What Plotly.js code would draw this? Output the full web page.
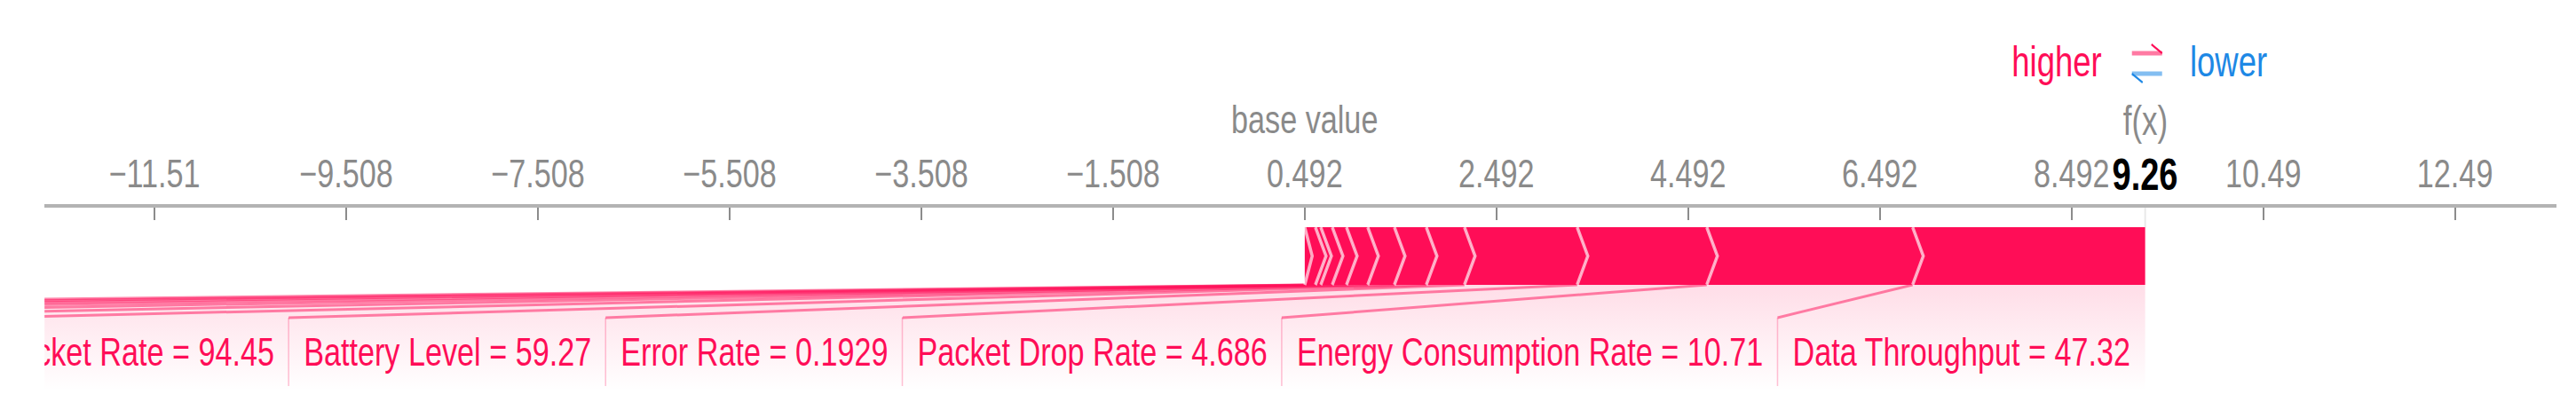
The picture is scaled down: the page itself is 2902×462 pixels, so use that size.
<!DOCTYPE html>
<html><head><meta charset="utf-8">
<script src="https://cdn.plot.ly/plotly-3.0.1.min.js"></script>
<style>
html,body{margin:0;padding:0;background:#fff;overflow:hidden;width:2902px;height:462px;}
#chart{transform-origin:0 0;}
</style>
</head><body><div id="chart"></div>
<script>
// ---------------- data ----------------
const baseValue = 0.492;
const outputValue = 9.26;
const featureNames  = ['', '', '', '', '', '', 'Packet Rate', 'Battery Level', 'Error Rate', 'Packet Drop Rate', 'Energy Consumption Rate', 'Data Throughput'];
const featureValues = ['', '', '', '', '', '', '94.45', '59.27', '0.1929', '4.686', '10.71', '47.32'];
const shapValues    = [0.111, 0.056, 0.120, 0.148, 0.222, 0.278, 0.333, 0.398, 1.176, 1.352, 2.148, 2.426];
const tickValues = [-11.508, -9.508, -7.508, -5.508, -3.508, -1.508, 0.492, 2.492, 4.492, 6.492, 8.492, 10.492, 12.492];
const tickLabels = ['\u221211.51', '\u22129.508', '\u22127.508', '\u22125.508', '\u22123.508', '\u22121.508', '0.492', '2.492', '4.492', '6.492', '8.492', '10.49', '12.49'];

// ---------------- layout / style constants ----------------
// The reference is horizontally condensed; the figure is drawn wider and squeezed by S.
const S = 0.76;
const W = 2902, H = 462, ML = 50, MR = 22, MT = 234;        // page pixels
const xRange = [-12.656, 13.548];
const PINK = '#ff0d57', BLUE = '#1e88e5', GREY = '#8a8a8a';
const FONT = '"Liberation Sans", Arial, sans-serif';
const LABEL_SIZE = 45;
const barTop = 256, barBot = 321, barMid = (256 + 321) / 2;
const linkY = 358, backBottom = 440, labelY = 401;
const tipPx = 12, padL = 17, padR = 16, unnamedBox = 300;   // page pixels

const ppu = (W - ML - MR) / (xRange[1] - xRange[0]);        // page px per unit
const pxToX = px => xRange[0] + (px - ML) / ppu;
const xToPx = x => ML + (x - xRange[0]) * ppu;
const pyPaper = py => (H - py) / (H - MT);
const pxPaper = px => (px - ML) / (W - ML - MR);
const tip = tipPx / ppu;

const bounds = [baseValue];
shapValues.forEach(v => bounds.push(bounds[bounds.length - 1] + v));
const n = shapValues.length;

// label boxes packed right to left from f(x)
const ctx = document.createElement('canvas').getContext('2d');
ctx.font = LABEL_SIZE + 'px ' + FONT;
const labelText = featureNames.map((nm, i) => nm ? nm + ' = ' + featureValues[i] : '');
const boxL = new Array(n), boxR = new Array(n);
let R = xToPx(outputValue);
for (let i = n - 1; i >= 0; i--) {
  const w = labelText[i] ? ctx.measureText(labelText[i]).width * S + padL + padR : unnamedBox;
  boxR[i] = R; boxL[i] = R - w; R = boxL[i];
}

const traces = [];
for (let i = 0; i < n; i++) {
  traces.push({
    type: 'scatter', mode: 'lines', hoverinfo: 'skip', showlegend: false,
    x: [bounds[i], bounds[i + 1], pxToX(boxR[i]), pxToX(boxR[i]), pxToX(boxL[i]), pxToX(boxL[i]), bounds[i]],
    y: [barBot, barBot, linkY, backBottom, backBottom, linkY, barBot],
    fill: 'toself', line: {width: 0},
    fillgradient: {type: 'vertical', start: barBot, stop: backBottom,
      colorscale: [[0, 'rgba(255,13,87,0.14)'], [1, 'rgba(255,13,87,0)']]}
  });
}
for (let i = 0; i < n; i++) {
  traces.push({type: 'scatter', mode: 'lines', hoverinfo: 'skip', showlegend: false,
    x: [pxToX(boxL[i]), pxToX(boxL[i])], y: [linkY, backBottom - 5],
    line: {color: 'rgba(255,13,87,0.25)', width: 2}});
  traces.push({type: 'scatter', mode: 'lines', hoverinfo: 'skip', showlegend: false,
    x: [bounds[i], pxToX(boxL[i])], y: [barBot, linkY],
    line: {color: 'rgba(255,13,87,0.5)', width: 3}});
}
for (let i = 0; i < n; i++) {
  const a = bounds[i], b = bounds[i + 1];
  const last = i === n - 1, first = i === 0;
  const xs = [a, b], ys = [barTop, barTop];
  if (last) { xs.push(b); ys.push(barBot); } else { xs.push(b + tip, b); ys.push(barMid, barBot); }
  xs.push(a); ys.push(barBot);
  if (!first) { xs.push(a + tip); ys.push(barMid); }
  xs.push(a); ys.push(barTop);
  traces.push({type: 'scatter', mode: 'lines', hoverinfo: 'skip', showlegend: false,
    x: xs, y: ys, fill: 'toself', fillcolor: PINK, line: {width: 0}});
}
const sx = [], sy = [];
for (let i = 0; i < n; i++) {
  const a = bounds[i];
  sx.push(a, a + tip * (i === 0 ? 0.7 : 1), a, null); sy.push(barTop, barMid, barBot, null);
}
traces.push({type: 'scatter', mode: 'lines', hoverinfo: 'skip', showlegend: false,
  x: sx, y: sy, line: {color: 'rgba(255,255,255,0.65)', width: 4.5}});
const tIdx = labelText.map((t, i) => i).filter(i => labelText[i]);
traces.push({type: 'scatter', mode: 'text', hoverinfo: 'skip', showlegend: false, cliponaxis: true,
  x: tIdx.map(i => pxToX(boxL[i] + padL)), y: tIdx.map(() => labelY),
  text: tIdx.map(i => labelText[i]), textposition: 'middle right',
  textfont: {family: FONT, size: LABEL_SIZE, color: PINK}});

// "higher ⇄ lower" arrows drawn as paper-referenced paths (page px -> paper)
const pathOf = pts => pts.map((p, k) => (k ? 'L' : 'M') + pxPaper(p[0]).toFixed(5) + ',' + pyPaper(p[1]).toFixed(5)).join(' ');
const arrowShape = (pts, color, w) => ({type: 'path', xref: 'paper', yref: 'paper', path: pathOf(pts),
  line: {color: color, width: w}, layer: 'above'});

const ann = (o) => Object.assign({showarrow: false, xanchor: 'center', yanchor: 'middle', yref: 'paper'}, o);
const layout = {
  width: Math.round(W / S), height: H,
  margin: {l: ML / S, r: MR / S, t: MT, b: 0, pad: 0},
  paper_bgcolor: '#fff', plot_bgcolor: '#fff', showlegend: false,
  xaxis: {side: 'top', range: xRange, showgrid: false, zeroline: false, fixedrange: true,
    showline: true, linecolor: '#b3b3b3', linewidth: 4,
    ticks: 'inside', ticklen: 14, tickwidth: 2.4, tickcolor: '#8c8c8c',
    tickmode: 'array', tickvals: tickValues, ticktext: tickLabels,
    tickfont: {family: FONT, size: 45, color: GREY}, ticklabelstandoff: 1},
  yaxis: {range: [H, MT], visible: false, fixedrange: true},
  shapes: [
    {type: 'line', xref: 'x', yref: 'y', x0: outputValue, x1: outputValue, y0: MT, y1: barTop,
      line: {color: '#e8e8e8', width: 2.5}},
    arrowShape([[2402, 60], [2436, 60]], 'rgba(255,13,87,0.55)', 5),
    arrowShape([[2436, 60], [2424, 50]], PINK, 2.5),
    arrowShape([[2436, 83], [2402, 83]], 'rgba(30,136,229,0.55)', 5),
    arrowShape([[2402, 83], [2414, 93]], BLUE, 2.5)
  ],
  annotations: [
    ann({xref: 'x', x: baseValue, y: pyPaper(134), text: 'base value', font: {family: FONT, size: 45, color: GREY}}),
    ann({xref: 'x', x: outputValue, y: pyPaper(136), text: 'f(x)', font: {family: FONT, size: 46, color: GREY}}),
    ann({xref: 'x', x: outputValue, y: pyPaper(197), text: '<b>' + outputValue.toFixed(2) + '</b>', bgcolor: '#fff', borderpad: 0,
      font: {family: FONT, size: 50, color: '#000'}}),
    ann({xref: 'paper', x: pxPaper(2369), xanchor: 'right', y: pyPaper(69), text: 'higher', font: {family: FONT, size: 48, color: PINK}}),
    ann({xref: 'paper', x: pxPaper(2466), xanchor: 'left', y: pyPaper(69), text: 'lower', font: {family: FONT, size: 48, color: BLUE}})
  ]
};
document.getElementById('chart').style.transform = 'scaleX(' + S + ')';
Plotly.newPlot('chart', traces, layout, {displayModeBar: false, staticPlot: true});
</script></body></html>
